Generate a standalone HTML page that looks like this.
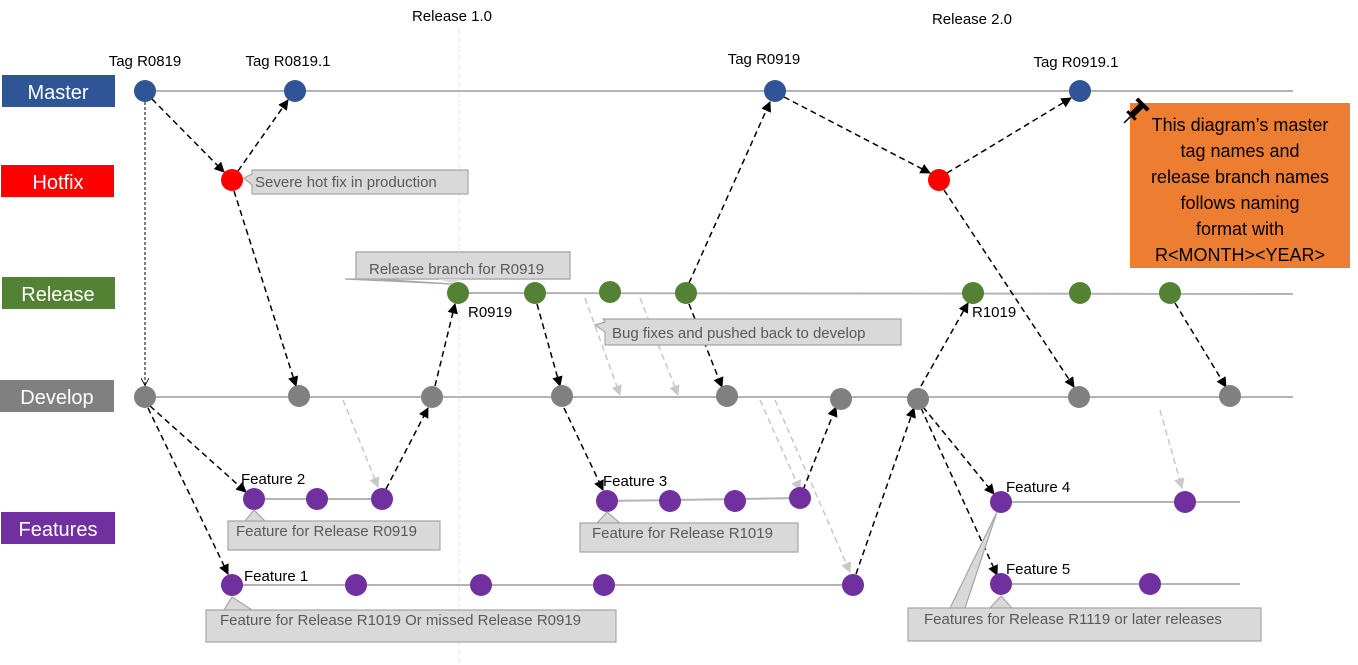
<!DOCTYPE html>
<html><head><meta charset="utf-8"><style>
html,body{margin:0;padding:0;background:#fff;}
svg{display:block;font-family:"Liberation Sans",sans-serif;}
</style></head><body>
<svg width="1358" height="665" viewBox="0 0 1358 665" xmlns="http://www.w3.org/2000/svg">
<defs>
<marker id="a" viewBox="0 0 10 10" refX="9" refY="5" markerWidth="7" markerHeight="7" orient="auto"><path d="M0,0 L10,5 L0,10 z" fill="#000"/></marker>
<marker id="g" viewBox="0 0 10 10" refX="9" refY="5" markerWidth="7" markerHeight="7" orient="auto"><path d="M0,0 L10,5 L0,10 z" fill="#c8c8c8"/></marker>
<marker id="o" viewBox="0 0 10 10" refX="9" refY="5" markerWidth="8" markerHeight="8" orient="auto"><path d="M0,0 L10,5 L0,10" fill="none" stroke="#000" stroke-width="1"/></marker>
</defs>
<line x1="459" y1="28" x2="459" y2="665" stroke="#e4e4e4" stroke-dasharray="6,3"/>
<g font-size="15" fill="#000" text-anchor="middle">
<text x="452" y="21">Release 1.0</text><text x="972" y="24">Release 2.0</text>
<text x="145" y="66">Tag R0819</text><text x="288" y="66">Tag R0819.1</text>
<text x="764" y="64">Tag R0919</text><text x="1076" y="67">Tag R0919.1</text>
</g>
<g font-size="20" fill="#fff" text-anchor="middle">
<rect x="2" y="75" width="113" height="32" fill="#2F5597"/><text x="58" y="99">Master</text>
<rect x="1" y="165" width="113" height="32" fill="#FF0000"/><text x="58" y="189">Hotfix</text>
<rect x="2" y="277" width="113" height="32" fill="#548235"/><text x="58" y="301">Release</text>
<rect x="0" y="380" width="114" height="32" fill="#808080"/><text x="57" y="404">Develop</text>
<rect x="1" y="512" width="114" height="32" fill="#7030A0"/><text x="58" y="536">Features</text>
</g>
<g stroke="#b4b4b4" stroke-width="2">
<line x1="145" y1="91" x2="1293" y2="91"/>
<line x1="458" y1="293" x2="1293" y2="294"/>
<line x1="145" y1="397" x2="1293" y2="397"/>
<line x1="254" y1="499" x2="382" y2="499"/>
<line x1="607" y1="501" x2="800" y2="498"/>
<line x1="232" y1="585" x2="853" y2="585"/>
<line x1="1001" y1="502" x2="1240" y2="502"/>
<line x1="1001" y1="584" x2="1240" y2="584"/>
</g>
<line x1="145" y1="102" x2="145" y2="385" stroke="#000" stroke-dasharray="3,2" marker-end="url(#o)"/>
<g stroke="#c8c8c8" stroke-width="1.5" stroke-dasharray="6,4" marker-end="url(#g)">
<line x1="343" y1="400" x2="378" y2="487"/>
<line x1="585" y1="298" x2="620" y2="395"/>
<line x1="640" y1="298" x2="678" y2="395"/>
<line x1="760" y1="400" x2="800" y2="490"/>
<line x1="775" y1="400" x2="850" y2="572"/>
<line x1="1160" y1="410" x2="1182" y2="488"/>
</g>
<g stroke="#000" stroke-width="1.5" stroke-dasharray="6,4" marker-end="url(#a)">
<line x1="152" y1="99" x2="224" y2="172"/>
<line x1="238" y1="171" x2="288" y2="100"/>
<line x1="234" y1="191" x2="296" y2="386"/>
<line x1="150" y1="406" x2="246" y2="492"/>
<line x1="148" y1="408" x2="228" y2="574"/>
<line x1="386" y1="489" x2="428" y2="408"/>
<line x1="435" y1="386" x2="455" y2="304"/>
<line x1="537" y1="304" x2="560" y2="386"/>
<line x1="564" y1="408" x2="603" y2="490"/>
<line x1="689" y1="283" x2="770" y2="102"/>
<line x1="784" y1="97" x2="930" y2="173"/>
<line x1="947" y1="173" x2="1071" y2="98"/>
<line x1="944" y1="190" x2="1074" y2="387"/>
<line x1="689" y1="304" x2="722" y2="387"/>
<line x1="803" y1="490" x2="836" y2="407"/>
<line x1="856" y1="574" x2="914" y2="408"/>
<line x1="921" y1="386" x2="968" y2="303"/>
<line x1="923" y1="407" x2="994" y2="494"/>
<line x1="921" y1="408" x2="997" y2="575"/>
<line x1="1175" y1="303" x2="1226" y2="387"/>
</g>
<g fill="#2F5597"><circle cx="145" cy="91" r="11"/><circle cx="295" cy="91" r="11"/><circle cx="775" cy="91" r="11"/><circle cx="1080" cy="91" r="11"/></g>
<g fill="#FF0000"><circle cx="232" cy="180" r="11"/><circle cx="939" cy="180" r="11"/></g>
<g fill="#548235"><circle cx="458" cy="293" r="11"/><circle cx="535" cy="293" r="11"/><circle cx="610" cy="292" r="11"/><circle cx="686" cy="293" r="11"/><circle cx="973" cy="293" r="11"/><circle cx="1080" cy="293" r="11"/><circle cx="1170" cy="293" r="11"/></g>
<g fill="#808080"><circle cx="145" cy="397" r="11"/><circle cx="299" cy="396" r="11"/><circle cx="432" cy="397" r="11"/><circle cx="562" cy="396" r="11"/><circle cx="727" cy="396" r="11"/><circle cx="841" cy="399" r="11"/><circle cx="918" cy="399" r="11"/><circle cx="1079" cy="397" r="11"/><circle cx="1230" cy="396" r="11"/></g>
<g fill="#7030A0"><circle cx="254" cy="499" r="11"/><circle cx="317" cy="499" r="11"/><circle cx="382" cy="499" r="11"/><circle cx="607" cy="501" r="11"/><circle cx="670" cy="501" r="11"/><circle cx="735" cy="501" r="11"/><circle cx="800" cy="498" r="11"/><circle cx="232" cy="585" r="11"/><circle cx="356" cy="585" r="11"/><circle cx="481" cy="585" r="11"/><circle cx="604" cy="585" r="11"/><circle cx="853" cy="585" r="11"/><circle cx="1001" cy="502" r="11"/><circle cx="1185" cy="502" r="11"/><circle cx="1001" cy="584" r="11"/><circle cx="1150" cy="584" r="11"/></g>
<g font-size="15" fill="#000">
<text x="468" y="317">R0919</text><text x="972" y="317">R1019</text>
<text x="241" y="484">Feature 2</text><text x="603" y="486">Feature 3</text>
<text x="244" y="581">Feature 1</text><text x="1006" y="492">Feature 4</text><text x="1006" y="574">Feature 5</text>
</g>
<g fill="#D9D9D9" stroke="#A6A6A6" stroke-width="1.2">
<path d="M252,170 H468 V194 H252 V185 L244,178 L252,174 Z"/>
<path d="M356,252 H570 V279 H375 L452,284 L345,279 H356 Z"/>
<path d="M356,252 H570 V279 H356 Z"/>
<path d="M603,319 H901 V345 H605 V332 L595,325 L605,322 Z"/>
<path d="M228,521 H440 V550 H228 V521 H245 L254,510 L265,521 Z"/>
<path d="M580,523 H798 V552 H580 V523 H597 L607,512 L620,523 Z"/>
<path d="M206,610 H616 V642 H206 V610 H224 L232,597 L252,610 Z"/>
<path d="M908,608 H1261 V641 H908 V608 H950 L997,512 L965,608 H990 L1001,596 L1012,608 Z"/>
</g>
<path d="M452,283 L438,279 L462,279 Z" fill="#D9D9D9"/>
<g font-size="15" fill="#595959">
<text x="255" y="187">Severe hot fix in production</text>
<text x="369" y="274">Release branch for R0919</text>
<text x="612" y="338">Bug fixes and pushed back to develop</text>
<text x="236" y="536">Feature for Release R0919</text>
<text x="592" y="538">Feature for Release R1019</text>
<text x="220" y="625">Feature for Release R1019 Or missed Release R0919</text>
<text x="924" y="624">Features for Release R1119 or later releases</text>
</g>
<rect x="1130" y="103" width="220" height="165" fill="#ED7D31"/>
<g font-size="18" fill="#000" text-anchor="middle">
<text x="1240" y="131">This diagram’s master</text>
<text x="1240" y="157">tag names and</text>
<text x="1240" y="183">release branch names</text>
<text x="1240" y="209">follows naming</text>
<text x="1240" y="235">format with</text>
<text x="1240" y="261">R&lt;MONTH&gt;&lt;YEAR&gt;</text>
</g>
<g transform="translate(1134,113) rotate(45)"><rect x="-3" y="-12" width="6" height="14" fill="#000"/><rect x="-8" y="-14" width="16" height="4" fill="#000"/><rect x="-6" y="2" width="12" height="3" fill="#000"/><line x1="0" y1="5" x2="0" y2="14" stroke="#000" stroke-width="1.5"/></g>
</svg>
</body></html>
